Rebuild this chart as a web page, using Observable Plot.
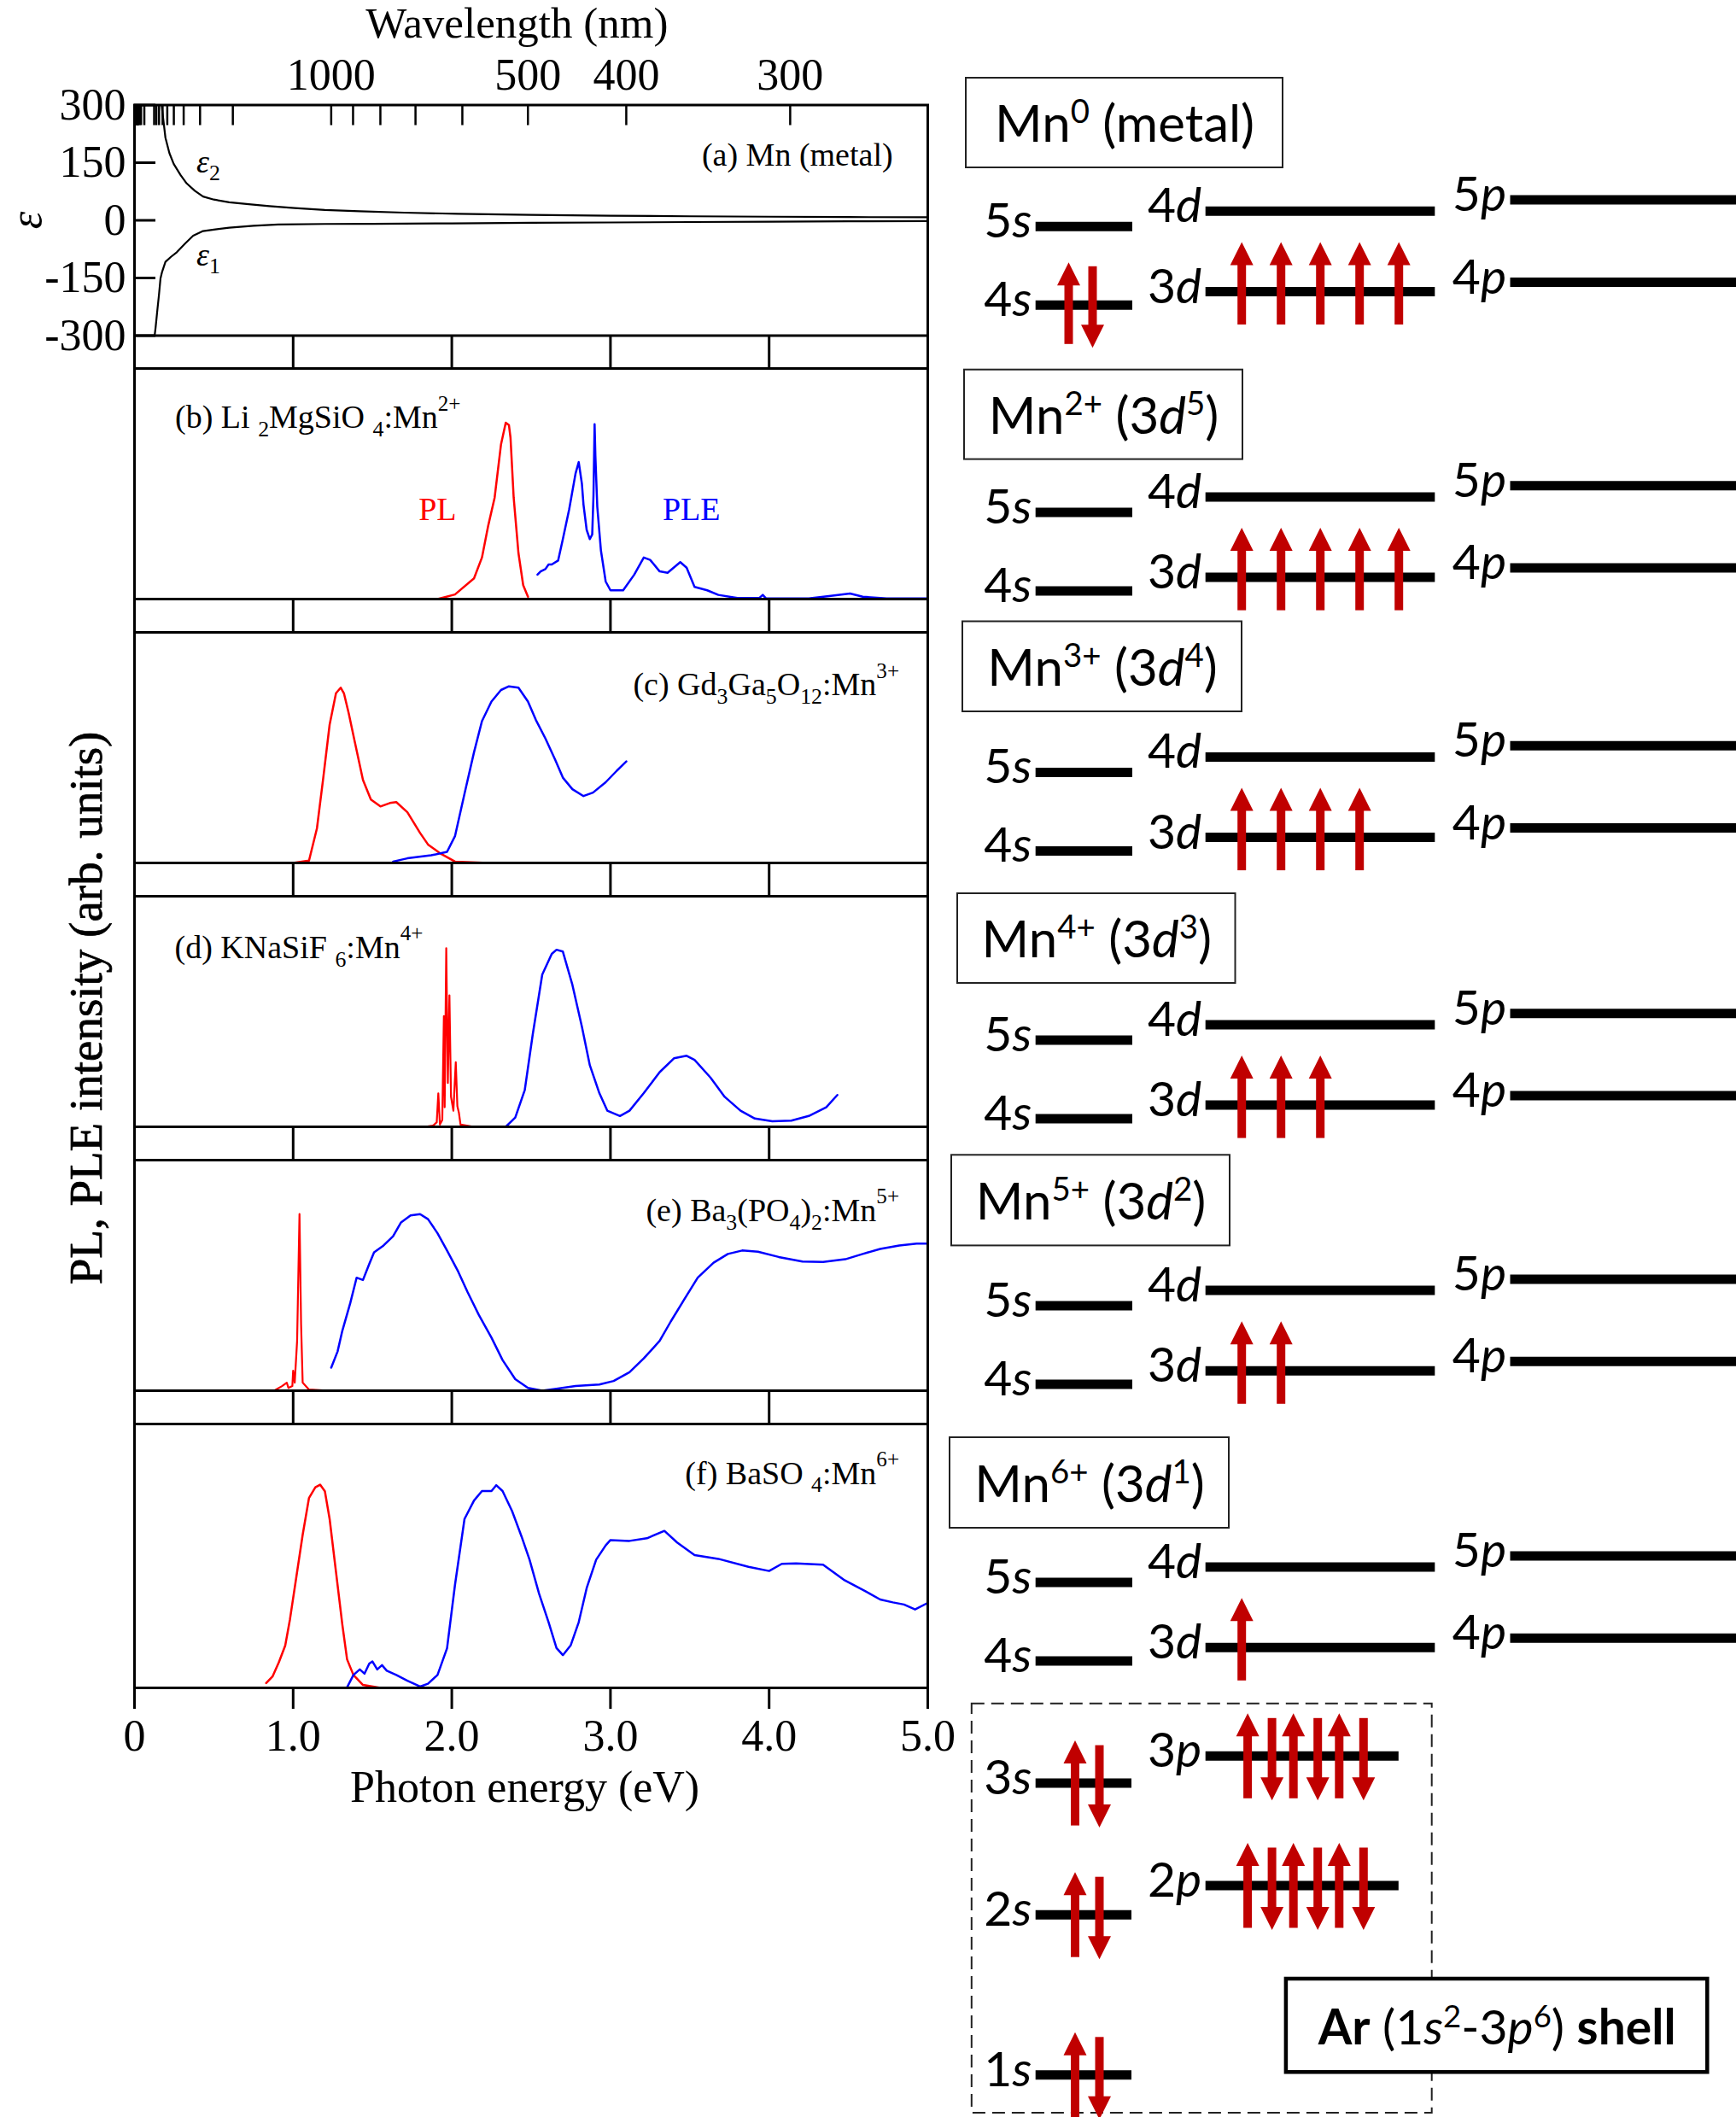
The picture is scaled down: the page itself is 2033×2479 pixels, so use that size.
<!DOCTYPE html>
<html><head><meta charset="utf-8">
<script src="https://cdn.jsdelivr.net/npm/d3@7"></script>
<script src="https://cdn.jsdelivr.net/npm/@observablehq/plot@0.6"></script>
<style>
html,body{margin:0;padding:0;background:#fff;}
#fig{position:relative;width:2033px;height:2479px;overflow:hidden;background:#fff;}
#fig svg{position:absolute;}
</style></head><body><div id="fig"></div>
<script>
// ======================= DATA =======================
const E2NM = 1239.84; // photon energy (eV) * wavelength (nm)
const energyTicks = [0, 1, 2, 3, 4, 5];
const energyTickLabels = ["0", "1.0", "2.0", "3.0", "4.0", "5.0"];
const epsTicks = [300, 150, 0, -150, -300];
const wavelengthTicks = [300, 400, 500, 600, 700, 800, 900, 1000, 2000, 3000, 4000, 5000, 6000, 7000, 8000, 9000,
  10000, 20000, 30000, 40000, 50000, 60000, 70000, 80000, 90000, 100000];
const wavelengthLabels = [1000, 500, 400, 300];

// (a) Mn metal dielectric function [eV, epsilon]
const eps2 = [[0.171,300],[0.18,268],[0.195,215],[0.22,175],[0.247,147],[0.29,118],[0.329,96],[0.38,77],[0.432,62],
  [0.5,54],[0.597,47],[0.72,42],[0.85,37],[1.009,32],[1.2,27],[1.42,23.5],[1.7,20],[2.04,17],[2.5,14],[3.0,12],
  [3.5,10.5],[4.0,9.5],[4.5,8.5],[5.0,8]];
const eps1 = [[0.127,-300],[0.133,-279],[0.145,-230],[0.154,-195],[0.164,-151],[0.174,-134],[0.195,-108],[0.23,-95],
  [0.267,-83],[0.32,-60],[0.37,-40],[0.432,-28],[0.5,-24],[0.597,-19],[0.75,-14],[0.906,-11],[1.2,-9.5],[1.5,-9],
  [2.0,-8],[2.5,-6.5],[3.0,-5.5],[3.5,-4.5],[4.0,-3.5],[4.5,-2.5],[5.0,-2]];

// (b)-(f) normalized PL / PLE spectra [eV, intensity]
const plB = [[1.91,0],[2.02,0.02],[2.14,0.09],[2.19,0.18],[2.23,0.32],[2.27,0.44],[2.31,0.67],[2.34,0.765],[2.36,0.755],
  [2.37,0.70],[2.39,0.44],[2.42,0.20],[2.45,0.06],[2.48,0.01]];
const pleB = [[2.54,0.106],[2.56,0.12],[2.59,0.13],[2.61,0.15],[2.63,0.15],[2.67,0.167],[2.70,0.26],[2.74,0.39],[2.78,0.545],
  [2.80,0.594],[2.82,0.50],[2.83,0.41],[2.85,0.30],[2.87,0.26],[2.885,0.28],[2.893,0.45],[2.90,0.758],[2.905,0.62],
  [2.917,0.40],[2.94,0.21],[2.97,0.076],[3.00,0.038],[3.08,0.038],[3.15,0.106],[3.21,0.18],[3.25,0.17],[3.31,0.12],
  [3.36,0.114],[3.44,0.16],[3.48,0.136],[3.53,0.053],[3.61,0.038],[3.68,0.018],[3.80,0.005],[3.94,0.006],[3.96,0.018],
  [3.98,0.003],[4.25,0.003],[4.40,0.015],[4.51,0.024],[4.59,0.01],[4.74,0.003],[5.0,0.003]];
const plC = [[1.00,0],[1.10,0.01],[1.15,0.15],[1.19,0.37],[1.23,0.60],[1.27,0.736],[1.30,0.76],[1.32,0.736],[1.35,0.65],
  [1.39,0.52],[1.44,0.36],[1.49,0.275],[1.55,0.245],[1.61,0.26],[1.65,0.264],[1.72,0.22],[1.80,0.13],[1.85,0.08],
  [1.93,0.04],[2.02,0.006],[2.23,0]];
const pleC = [[1.63,0.006],[1.72,0.02],[1.87,0.033],[1.97,0.048],[2.02,0.116],[2.08,0.30],[2.14,0.48],[2.19,0.615],
  [2.25,0.70],[2.31,0.75],[2.36,0.766],[2.42,0.76],[2.48,0.70],[2.53,0.62],[2.59,0.54],[2.65,0.45],[2.70,0.37],
  [2.76,0.32],[2.83,0.29],[2.89,0.305],[2.97,0.35],[3.04,0.40],[3.10,0.44]];
const plD = [[1.83,0],[1.88,0.005],[1.89,0.01],[1.905,0.02],[1.915,0.145],[1.925,0.01],[1.94,0.03],[1.95,0.48],
  [1.955,0.085],[1.965,0.775],[1.975,0.19],[1.985,0.57],[1.995,0.13],[2.01,0.07],[2.025,0.28],[2.035,0.09],
  [2.045,0.06],[2.055,0.01],[2.14,0]];
const pleD = [[2.34,0],[2.40,0.04],[2.46,0.16],[2.51,0.40],[2.57,0.66],[2.63,0.75],[2.66,0.768],[2.70,0.76],[2.76,0.616],
  [2.82,0.434],[2.87,0.267],[2.93,0.146],[2.98,0.07],[3.06,0.047],[3.12,0.07],[3.21,0.146],[3.31,0.237],[3.40,0.297],
  [3.48,0.308],[3.53,0.29],[3.63,0.214],[3.72,0.13],[3.82,0.07],[3.91,0.036],[4.02,0.024],[4.14,0.027],[4.25,0.047],
  [4.36,0.085],[4.43,0.138]];
const plE = [[0.88,0],[0.93,0.02],[0.96,0.035],[0.97,0.012],[0.995,0.02],[1.00,0.087],[1.01,0.035],[1.025,0.216],
  [1.04,0.766],[1.05,0.29],[1.06,0.035],[1.10,0.005],[1.23,0]];
const pleE = [[1.24,0.10],[1.28,0.17],[1.31,0.26],[1.36,0.38],[1.40,0.49],[1.44,0.48],[1.48,0.55],[1.51,0.60],[1.57,0.63],
  [1.63,0.67],[1.68,0.73],[1.74,0.76],[1.80,0.766],[1.85,0.744],[1.91,0.683],[1.97,0.608],[2.04,0.517],[2.10,0.427],
  [2.17,0.329],[2.25,0.23],[2.32,0.133],[2.40,0.05],[2.48,0.012],[2.57,0],[2.66,0.008],[2.78,0.02],[2.93,0.027],
  [3.02,0.042],[3.12,0.08],[3.21,0.14],[3.31,0.216],[3.38,0.30],[3.46,0.39],[3.55,0.49],[3.65,0.555],[3.74,0.593],
  [3.83,0.608],[3.93,0.603],[4.06,0.58],[4.21,0.56],[4.34,0.558],[4.48,0.57],[4.59,0.593],[4.70,0.615],[4.82,0.63],
  [4.93,0.638],[5.0,0.638]];
const plF = [[0.83,0.018],[0.87,0.043],[0.91,0.097],[0.95,0.16],[0.98,0.26],[1.02,0.42],[1.06,0.58],[1.10,0.72],
  [1.14,0.76],[1.17,0.77],[1.20,0.745],[1.23,0.64],[1.27,0.44],[1.31,0.24],[1.34,0.108],[1.38,0.049],[1.44,0.011],[1.55,0]];
const pleF = [[1.34,0.002],[1.38,0.049],[1.42,0.07],[1.45,0.054],[1.48,0.092],[1.50,0.10],[1.53,0.07],[1.56,0.086],
  [1.59,0.065],[1.65,0.049],[1.72,0.027],[1.80,0.005],[1.85,0.016],[1.91,0.049],[1.97,0.15],[2.02,0.39],[2.08,0.64],
  [2.14,0.71],[2.19,0.746],[2.25,0.746],[2.28,0.768],[2.32,0.746],[2.38,0.67],[2.44,0.573],[2.49,0.486],[2.55,0.357],
  [2.61,0.249],[2.66,0.151],[2.70,0.124],[2.75,0.162],[2.80,0.249],[2.85,0.378],[2.91,0.486],[2.97,0.54],[3.00,0.56],
  [3.12,0.557],[3.23,0.567],[3.34,0.595],[3.42,0.551],[3.53,0.503],[3.68,0.489],[3.87,0.459],[4.00,0.443],[4.08,0.47],
  [4.17,0.472],[4.34,0.467],[4.47,0.41],[4.61,0.365],[4.70,0.335],[4.78,0.324],[4.85,0.316],[4.92,0.297],[5.0,0.322]];

const panelLabels = ["(a) Mn (metal)", "(b) Li _{2}MgSiO _{4}:Mn^{2+}", "(c) Gd_{3}Ga_{5}O_{12}:Mn^{3+}",
  "(d) KNaSiF _{6}:Mn^{4+}", "(e) Ba_{3}(PO_{4})_{2}:Mn^{5+}", "(f) BaSO _{4}:Mn^{6+}"];
const seriesNames = ["PL", "PLE"];

// Right: electron configurations
const ionLabels = ["Mn^{0} (metal)", "Mn^{2+} (3*d*^{5})", "Mn^{3+} (3*d*^{4})", "Mn^{4+} (3*d*^{3})",
  "Mn^{5+} (3*d*^{2})", "Mn^{6+} (3*d*^{1})"];
const d3Electrons = [5, 5, 4, 3, 2, 1];
const s4Electrons = [2, 0, 0, 0, 0, 0];
const outerShells = ["5p", "4d", "5s", "4p", "3d", "4s"];
const coreShells = ["3p", "3s", "2p", "2s", "1s"];
const coreElectrons = [6, 2, 6, 2, 2];
const arLabel = "~Ar~ (1*s*^{2}-3*p*^{6}) ~shell~";

// ======================= LAYOUT =======================
const fig = document.getElementById("fig");
const serif = "'Liberation Serif', 'Times New Roman', Times, serif";
const sans = "Lato, 'Open Sans', 'Noto Sans', sans-serif";
const L = 157, R = 1086, SVGW = 1100;
const tops = [122.5, 431, 740, 1049, 1358, 1667];
const bottoms = [392.5, 701, 1010, 1319, 1628, 1976];
const RED = "#ff0000", BLUE = "#0000ff", DARKRED = "#c00000";

function parseRich(s) {
  const out = []; let it = false, bd = false, buf = "";
  const flush = () => { if (buf) out.push({t: buf, it, bd, sh: 0}); buf = ""; };
  for (let i = 0; i < s.length; ) {
    const c = s[i];
    if (c === "*") { flush(); it = !it; i++; }
    else if (c === "~") { flush(); bd = !bd; i++; }
    else if ((c === "^" || c === "_") && s[i + 1] === "{") {
      flush(); const j = s.indexOf("}", i);
      out.push({t: s.slice(i + 2, j), it, bd, sh: c === "^" ? 1 : -1}); i = j + 1;
    } else { buf += c; i++; }
  }
  flush(); return out;
}
function richify(svg, cfg) {
  svg.querySelectorAll("text").forEach(t => {
    const s = t.textContent;
    if (!/[*~]|\^\{|_\{/.test(s)) return;
    const fs = parseFloat(getComputedStyle(t).fontSize);
    t.textContent = "";
    let cur = 0;
    for (const g of parseRich(s)) {
      const ts = document.createElementNS("http://www.w3.org/2000/svg", "tspan");
      ts.textContent = g.t;
      const target = g.sh > 0 ? -cfg.supRise * fs : g.sh < 0 ? cfg.subDrop * fs : 0;
      if (g.sh) ts.setAttribute("font-size", (g.sh > 0 ? cfg.supScale : cfg.subScale) * fs);
      if (target !== cur) ts.setAttribute("dy", target - cur);
      cur = target;
      if (g.it) ts.setAttribute("font-style", "italic");
      if (g.bd) ts.setAttribute("font-weight", "bold");
      t.appendChild(ts);
    }
  });
}
const serifRich = {supRise: 0.55, supScale: 0.66, subDrop: 0.25, subScale: 0.68};
const sansRich = {supRise: 0.36, supScale: 0.64, subDrop: 0.2, subScale: 0.6};

const X = d => d[0], Y = d => d[1];

function makePanel(i, yDomain, marks) {
  const isFirst = i === 0, isLast = i === 5;
  const mt = isFirst ? tops[0] : 0;
  const svgTop = tops[i] - mt;
  const height = isLast ? 2479 - svgTop : tops[i + 1] - svgTop;
  const mb = isLast ? 2479 - bottoms[i] : tops[i + 1] - bottoms[i];
  const svg = Plot.plot({
    width: SVGW, height, marginLeft: L, marginRight: SVGW - R, marginTop: mt, marginBottom: mb,
    x: {domain: [0, 5], label: null},
    y: {domain: yDomain, axis: null, label: null},
    style: {background: "transparent", overflow: "visible", maxWidth: "none", fontFamily: serif, fontSize: "52px", color: "black"},
    marks: [
      ...marks,
      Plot.frame({stroke: "black", strokeWidth: 3}),
      Plot.axisX(energyTicks, {anchor: "bottom", tickSize: isLast ? 25 : mb, tickPadding: 12, strokeWidth: 3,
        tickFormat: isLast ? (d => energyTickLabels[energyTicks.indexOf(d)]) : (() => ""), fontSize: 52, label: null})
    ]
  });
  svg.style.left = "0px"; svg.style.top = svgTop + "px";
  fig.appendChild(svg);
  richify(svg, serifRich);
  return svg;
}

// ---- (a)
const plotH_a = bottoms[0] - tops[0];
makePanel(0, [-300, 300], [
  Plot.line(eps2, {x: X, y: Y, stroke: "black", strokeWidth: 2.2}),
  Plot.line(eps1, {x: X, y: Y, stroke: "black", strokeWidth: 2.2}),
  Plot.tickY(epsTicks, {y: d => d, insetRight: (R - L) - 25, stroke: "black", strokeWidth: 3}),
  Plot.tickX(wavelengthTicks, {x: d => E2NM / d, insetBottom: plotH_a - 24, stroke: "black", strokeWidth: 2.5}),
  Plot.text(epsTicks, {y: d => d, text: d => String(d), frameAnchor: "left", textAnchor: "end", dx: -10, fontSize: 52}),
  Plot.text(wavelengthLabels, {x: d => E2NM / d, text: d => String(d), frameAnchor: "top", lineAnchor: "bottom", dy: -18.5, fontSize: 52}),
  Plot.text(["Wavelength (nm)"], {x: 2.41, text: d => d, frameAnchor: "top", textAnchor: "middle", lineAnchor: "bottom", dy: -79, fontSize: 51}),
  Plot.text([panelLabels[0]], {x: 4.78, y: 143, text: d => d, textAnchor: "end", lineAnchor: "bottom", fontSize: 38}),
  Plot.text(["*ε*_{2}"], {x: 0.39, y: 125, text: d => d, textAnchor: "start", lineAnchor: "bottom", fontSize: 38}),
  Plot.text(["*ε*_{1}"], {x: 0.39, y: -117, text: d => d, textAnchor: "start", lineAnchor: "bottom", fontSize: 38}),
  Plot.text(["*ε*"], {y: 0, text: d => d, frameAnchor: "left", textAnchor: "middle", dx: -126, rotate: -90, fontSize: 52})
]);

// ---- (b)
makePanel(1, [0, 1], [
  Plot.line(plB, {x: X, y: Y, stroke: RED, strokeWidth: 2.5}),
  Plot.line(pleB, {x: X, y: Y, stroke: BLUE, strokeWidth: 2.5}),
  Plot.text([panelLabels[1]], {x: 0.256, y: 0.741, text: d => d, textAnchor: "start", lineAnchor: "bottom", fontSize: 38}),
  Plot.text([seriesNames[0]], {x: 1.91, y: 0.342, text: d => d, fill: RED, lineAnchor: "bottom", fontSize: 38}),
  Plot.text([seriesNames[1]], {x: 3.51, y: 0.342, text: d => d, fill: BLUE, lineAnchor: "bottom", fontSize: 38})
]);
// ---- (c)
makePanel(2, [0, 1], [
  Plot.line(plC, {x: X, y: Y, stroke: RED, strokeWidth: 2.5}),
  Plot.line(pleC, {x: X, y: Y, stroke: BLUE, strokeWidth: 2.5}),
  Plot.text([panelLabels[2]], {x: 4.82, y: 0.726, text: d => d, textAnchor: "end", lineAnchor: "bottom", fontSize: 38})
]);
// ---- (d)
makePanel(3, [0, 1], [
  Plot.line(plD, {x: X, y: Y, stroke: RED, strokeWidth: 2.2}),
  Plot.line(pleD, {x: X, y: Y, stroke: BLUE, strokeWidth: 2.5}),
  Plot.text([panelLabels[3]], {x: 0.253, y: 0.731, text: d => d, textAnchor: "start", lineAnchor: "bottom", fontSize: 38}),
  Plot.text(["PL, PLE intensity (arb. units)"], {y: 0.515, text: d => d, frameAnchor: "left", textAnchor: "middle",
    dx: -56, rotate: -90, fontSize: 55, fill: "black", stroke: "black", strokeWidth: 0.7})
]);
// ---- (e)
makePanel(4, [0, 1], [
  Plot.line(plE, {x: X, y: Y, stroke: RED, strokeWidth: 2.2}),
  Plot.line(pleE, {x: X, y: Y, stroke: BLUE, strokeWidth: 2.5}),
  Plot.text([panelLabels[4]], {x: 4.82, y: 0.734, text: d => d, textAnchor: "end", lineAnchor: "bottom", fontSize: 38})
]);
// ---- (f)
makePanel(5, [0, 1], [
  Plot.line(plF, {x: X, y: Y, stroke: RED, strokeWidth: 2.5}),
  Plot.line(pleF, {x: X, y: Y, stroke: BLUE, strokeWidth: 2.5}),
  Plot.text([panelLabels[5]], {x: 4.82, y: 0.773, text: d => d, textAnchor: "end", lineAnchor: "bottom", fontSize: 38}),
  Plot.text(["Photon energy (eV)"], {x: 2.46, text: d => d, frameAnchor: "bottom", textAnchor: "middle", lineAnchor: "bottom", dy: 133, fontSize: 52})
]);

// ======================= RIGHT: level diagrams =======================
// diagram coordinates (page units)
const blockY = [246.8, 581.4, 885.9, 1199.4, 1510.6, 1834.6]; // row of the 4d level in each block
const boxRows = [[91, 196], [432.7, 537.6], [727.5, 833], [1046, 1151], [1352.3, 1458.4], [1683, 1789]];
const boxCols = [[1131, 1502], [1129, 1455], [1127, 1454], [1121, 1446.5], [1114, 1440], [1112, 1439]];
const shellOffset = {"5p": -13.2, "4d": 0, "5s": 18, "4p": 83.2, "3d": 94.2, "4s": 110};
const outerCol = {s: [1212.7, 1326], d: [1411.7, 1680.3], p: [1768.5, 2040]};
const coreRow = {"3p": 2055.8, "3s": 2087.6, "2p": 2207.5, "2s": 2241.7, "1s": 2429.3};
const coreCol = {s: [1212.7, 1325], p: [1411.7, 1637.8]};

const levels = [];
blockY.forEach(by => outerShells.forEach(sh => {
  const c = outerCol[sh[1]];
  levels.push({shell: sh, y: by + shellOffset[sh], x1: c[0], x2: c[1]});
}));
coreShells.forEach(sh => {
  const c = coreCol[sh[1]];
  levels.push({shell: sh, y: coreRow[sh], x1: c[0], x2: c[1]});
});

const arrows = [];
blockY.forEach((by, i) => {
  const y3d = by + shellOffset["3d"], y4s = by + shellOffset["4s"];
  for (let k = 0; k < d3Electrons[i]; k++) arrows.push({x: 1453.7 + 46 * k, tip: y3d - 58, tail: y3d + 39, up: true});
  if (s4Electrons[i] === 2) {
    arrows.push({x: 1251, tip: y4s - 50, tail: y4s + 46, up: true});
    arrows.push({x: 1279, tip: y4s + 50, tail: y4s - 45, up: false});
  }
});
coreShells.forEach((sh, i) => {
  const y = coreRow[sh];
  const pairs = coreElectrons[i] / 2;
  for (let j = 0; j < pairs; j++) {
    const xu = sh[1] === "s" ? 1258.5 : 1460.6 + 53.6 * j;
    arrows.push({x: xu, tip: y - 50, tail: y + 50, up: true});
    arrows.push({x: xu + 28.5, tip: y + 52, tail: y - 44, up: false});
  }
});

const headUp = {draw(ctx, size) { const r = Math.sqrt(size / Math.PI); ctx.moveTo(0, 0); ctx.lineTo(r, 2 * r); ctx.lineTo(-r, 2 * r); ctx.closePath(); }};
const headDown = {draw(ctx, size) { const r = Math.sqrt(size / Math.PI); ctx.moveTo(0, 0); ctx.lineTo(r, -2 * r); ctx.lineTo(-r, -2 * r); ctx.closePath(); }};

const boxes = ionLabels.map((lab, i) => ({label: lab, x1: boxCols[i][0], x2: boxCols[i][1], y1: boxRows[i][0], y2: boxRows[i][1]}));
const coreBox = [{x1: 1137.8, x2: 1676.7, y1: 1994.7, y2: 2474}];
const arBox = [{label: arLabel, x1: 1505.9, x2: 1999.3, y1: 2317, y2: 2426.3}];

const right = Plot.plot({
  width: 933, height: 2479, margin: 0,
  x: {domain: [1100, 2033], range: [0, 933], axis: null},
  y: {domain: [0, 2479], range: [0, 2479], axis: null},
  style: {background: "transparent", overflow: "visible", maxWidth: "none", fontFamily: sans, fontSize: "56px", color: "black"},
  marks: [
    Plot.rect(coreBox, {x1: "x1", x2: "x2", y1: "y1", y2: "y2", fill: "none", stroke: "#222", strokeWidth: 2, strokeDasharray: "15,8"}),
    Plot.ruleY(levels, {y: "y", x1: "x1", x2: "x2", stroke: "black", strokeWidth: 11}),
    Plot.text(levels, {x: d => d.x1 - 5, y: d => d.y + 13, text: d => d.shell[0] + "*" + d.shell[1] + "*",
      textAnchor: "end", lineAnchor: "bottom", fontSize: 57}),
    Plot.ruleX(arrows, {x: "x", y1: "tail", y2: d => d.up ? d.tip + 20 : d.tip - 20, stroke: DARKRED, strokeWidth: 10}),
    Plot.dot(arrows.filter(d => d.up), {x: "x", y: "tip", symbol: headUp, r: 13.5, fill: DARKRED, stroke: "none"}),
    Plot.dot(arrows.filter(d => !d.up), {x: "x", y: "tip", symbol: headDown, r: 13.5, fill: DARKRED, stroke: "none"}),
    Plot.rect(boxes, {x1: "x1", x2: "x2", y1: "y1", y2: "y2", fill: "white", stroke: "#222", strokeWidth: 2}),
    Plot.text(boxes, {x: d => (d.x1 + d.x2) / 2, y: d => (d.y1 + d.y2) / 2 + 22, text: "label", lineAnchor: "bottom", fontSize: 60}),
    Plot.rect(arBox, {x1: "x1", x2: "x2", y1: "y1", y2: "y2", fill: "white", stroke: "black", strokeWidth: 4.5}),
    Plot.text(arBox, {x: d => (d.x1 + d.x2) / 2, y: d => (d.y1 + d.y2) / 2 + 22, text: "label", lineAnchor: "bottom", fontSize: 57})
  ]
});
right.style.left = "1100px"; right.style.top = "0px";
fig.appendChild(right);
richify(right, sansRich);
</script></body></html>
